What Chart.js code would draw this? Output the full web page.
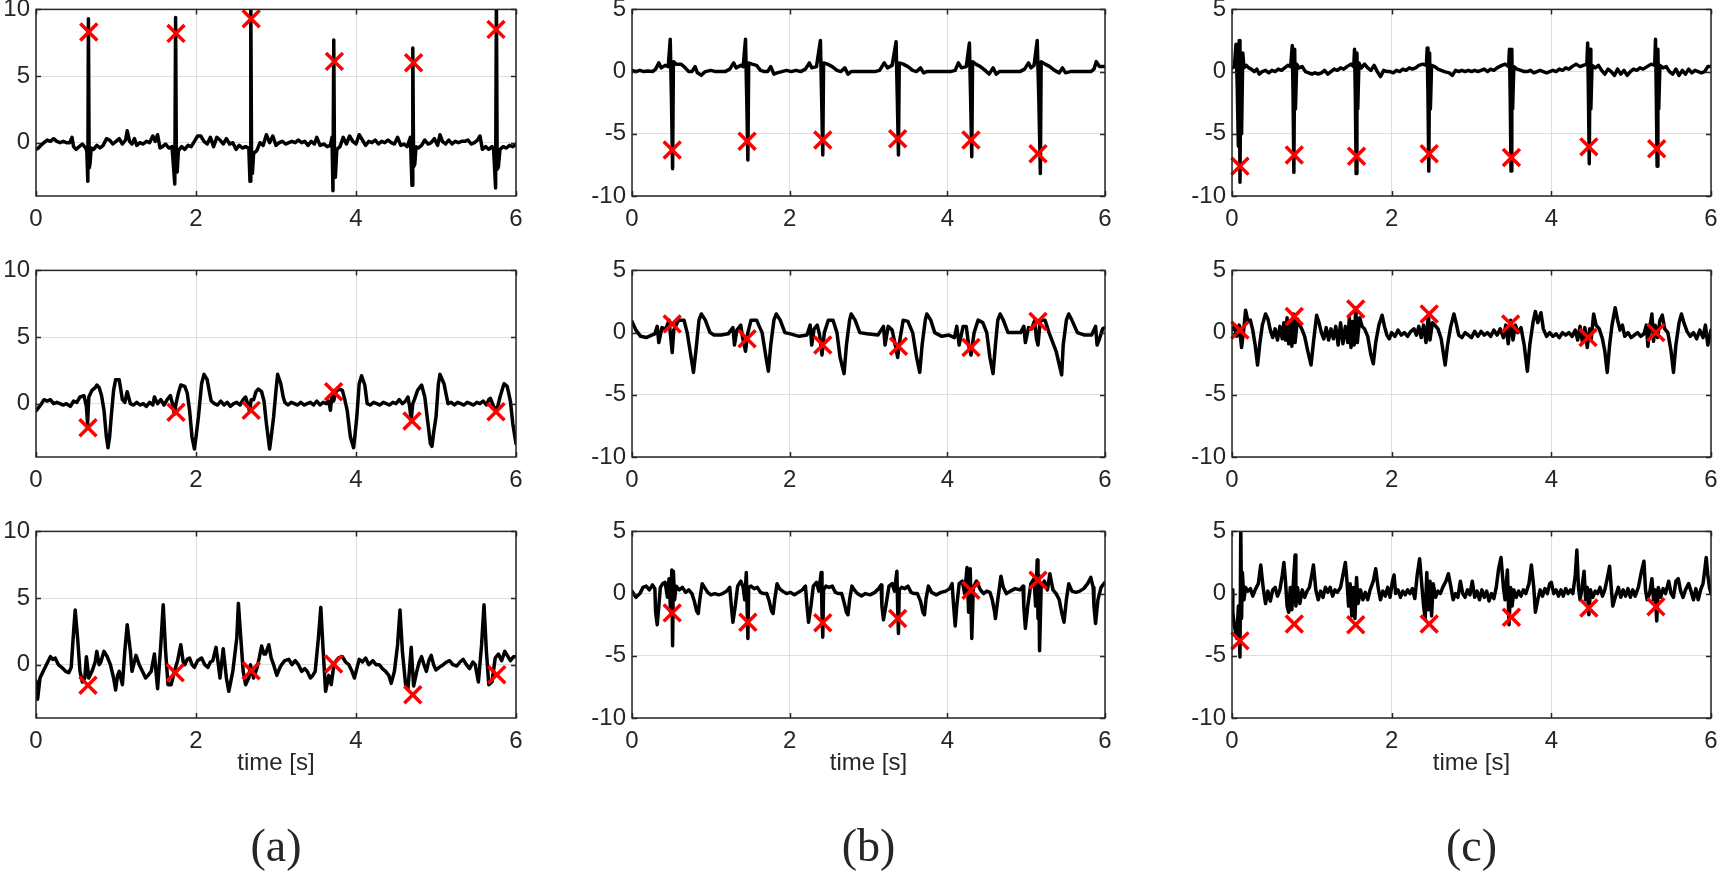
<!DOCTYPE html>
<html>
<head>
<meta charset="utf-8">
<script src="https://cdn.jsdelivr.net/npm/chart.js@4.4.0/dist/chart.umd.min.js"></script>
<style>
  body { margin: 0; width: 1720px; height: 871px; overflow: hidden; background: #fff; position: relative;
         font-family: "Liberation Sans", Arial, sans-serif; color: #262626; }
  .panel { position: absolute; }
  .xlab { position: absolute; font-size: 24px; transform: translate(-50%, -50%); white-space: nowrap; }
  .cap { position: absolute; font-family: "Liberation Serif", serif; font-size: 46px; transform: translate(-50%, -50%); }
</style>
</head>
<body>
<script>
// --- Data (time in s, amplitude) ---

const xTicks = [0, 2, 4, 6];
const yTicksA = [0, 5, 10];
const yTicksBC = [-10, -5, 0, 5];
const yRangeA = [-4, 10];
const yRangeBC = [-10, 5];
const captions = ['(a)', '(b)', '(c)'];
const xTitle = 'time [s]';

// column (a)
const sigA1 = [
  [0.00,-0.5],[0.03,-0.4],[0.06,-0.2],[0.10,0.0],[0.14,0.2],[0.18,0.1],[0.22,0.3],[0.26,0.1],[0.30,0.0],[0.34,0.1],
  [0.38,0.0],[0.42,0.0],[0.45,0.4],[0.47,-0.3],[0.50,-0.5],[0.54,-0.3],[0.58,-0.1],[0.62,-0.4],[0.635,-0.6],[0.648,-2.9],
  [0.655,9.3],[0.665,-1.9],[0.675,-1.6],[0.69,-0.4],[0.72,-0.5],[0.76,-0.2],[0.80,-0.4],[0.84,-0.2],[0.88,0.3],[0.92,0.2],
  [0.96,-0.1],[1.00,0.1],[1.04,0.3],[1.08,-0.1],[1.12,0.2],[1.14,0.9],[1.17,0.1],[1.20,-0.1],[1.23,0.3],[1.26,-0.2],
  [1.30,0.0],[1.34,-0.1],[1.38,0.1],[1.42,0.0],[1.46,0.5],[1.49,0.1],[1.52,0.6],[1.55,-0.4],[1.58,-0.3],[1.62,-0.1],
  [1.66,-0.4],[1.70,-0.3],[1.735,-3.1],[1.745,9.4],[1.755,-2.0],[1.765,-2.2],[1.78,-0.6],[1.82,-0.3],[1.86,-0.5],[1.90,-0.2],
  [1.94,-0.3],[1.98,0.1],[2.02,0.5],[2.06,0.5],[2.10,0.1],[2.14,-0.1],[2.18,0.4],[2.22,-0.3],[2.26,0.4],[2.30,0.2],
  [2.34,-0.1],[2.38,0.3],[2.42,-0.1],[2.46,0.0],[2.50,-0.5],[2.54,-0.2],[2.58,-0.4],[2.62,-0.3],[2.66,-0.4],[2.675,-2.9],
  [2.685,10.5],[2.695,-2.0],[2.705,-2.3],[2.72,-0.8],[2.76,-0.6],[2.80,0.0],[2.84,-0.2],[2.88,0.6],[2.92,0.0],[2.96,0.5],
  [3.00,-0.2],[3.04,0.0],[3.08,0.1],[3.12,-0.1],[3.16,0.0],[3.20,0.1],[3.24,0.0],[3.28,0.2],[3.32,0.0],[3.36,0.1],
  [3.40,-0.2],[3.44,0.1],[3.48,-0.1],[3.51,0.4],[3.55,-0.2],[3.60,-0.1],[3.64,-0.3],[3.68,-0.2],[3.70,0.4],[3.712,-3.6],
  [3.722,7.7],[3.732,-2.2],[3.742,-2.6],[3.76,-0.5],[3.80,-0.3],[3.84,0.4],[3.88,-0.1],[3.92,0.5],[3.96,0.1],[4.00,-0.1],
  [4.04,0.6],[4.08,0.2],[4.12,-0.2],[4.16,0.1],[4.20,0.0],[4.24,0.2],[4.28,-0.1],[4.32,0.1],[4.36,0.0],[4.40,0.2],
  [4.44,0.0],[4.48,-0.1],[4.52,0.4],[4.56,-0.2],[4.60,-0.1],[4.64,-0.3],[4.68,0.4],[4.70,-3.2],[4.71,7.1],[4.72,-1.8],
  [4.735,-1.6],[4.75,-0.3],[4.78,-0.4],[4.82,-0.2],[4.86,0.2],[4.90,-0.1],[4.94,0.0],[4.98,0.3],[5.02,-0.2],[5.05,0.6],
  [5.08,0.1],[5.12,-0.1],[5.16,0.2],[5.20,-0.1],[5.24,0.1],[5.28,0.0],[5.32,0.1],[5.36,0.1],[5.40,0.2],[5.44,-0.1],
  [5.48,0.0],[5.52,0.2],[5.55,0.5],[5.58,-0.5],[5.62,-0.3],[5.66,-0.5],[5.70,-0.3],[5.72,-0.5],[5.745,-3.4],[5.755,11],
  [5.765,-2.0],[5.78,-1.8],[5.80,-0.5],[5.84,-0.3],[5.88,-0.4],[5.92,-0.2],[5.96,-0.3],[6.00,-0.1]
];
const pkA1 = [[0.66,8.3],[1.75,8.2],[2.69,9.3],[3.73,6.1],[4.72,6.0],[5.75,8.5]];

const sigA2 = [
  [0.00,-0.55],[0.07,0.0],[0.10,0.3],[0.14,0.2],[0.18,0.3],[0.22,0.0],[0.26,0.1],[0.30,0.0],[0.34,-0.1],[0.38,0.0],
  [0.43,-0.2],[0.47,0.2],[0.51,0.1],[0.55,0.5],[0.60,0.6],[0.63,-0.2],[0.645,-1.5],[0.66,0.5],[0.70,1.0],[0.74,1.2],
  [0.76,1.4],[0.79,1.2],[0.82,0.6],[0.85,-0.5],[0.88,-2.5],[0.90,-3.3],[0.92,-2.5],[0.94,-1.0],[0.97,1.0],[0.995,1.8],
  [1.04,1.8],[1.08,0.3],[1.11,0.1],[1.14,0.9],[1.18,0.0],[1.22,-0.1],[1.26,0.1],[1.30,-0.1],[1.34,0.0],[1.38,-0.2],
  [1.42,0.1],[1.46,-0.1],[1.48,0.5],[1.52,0.0],[1.56,0.3],[1.60,-0.1],[1.64,0.3],[1.68,0.6],[1.71,-0.1],[1.73,-0.8],
  [1.75,0.0],[1.78,0.8],[1.81,1.4],[1.86,1.3],[1.89,0.8],[1.92,-0.5],[1.95,-2.5],[1.98,-3.4],[2.00,-2.5],[2.03,-1.0],
  [2.07,1.5],[2.10,2.2],[2.14,1.8],[2.17,0.8],[2.19,0.2],[2.23,0.0],[2.27,-0.1],[2.31,0.2],[2.35,-0.1],[2.39,0.1],
  [2.43,-0.2],[2.47,0.0],[2.51,0.1],[2.55,-0.1],[2.59,0.3],[2.62,0.5],[2.65,-0.1],[2.67,-0.6],[2.69,0.3],[2.72,0.3],
  [2.75,0.9],[2.78,1.1],[2.82,0.9],[2.85,0.2],[2.88,-1.5],[2.92,-3.4],[2.94,-2.5],[2.97,-1.0],[3.00,1.0],[3.02,2.2],
  [3.06,1.5],[3.09,0.5],[3.11,0.1],[3.15,-0.1],[3.19,0.1],[3.23,0.0],[3.27,-0.1],[3.31,0.1],[3.35,-0.1],[3.39,0.0],
  [3.43,0.1],[3.47,-0.1],[3.51,0.2],[3.55,-0.1],[3.59,0.1],[3.63,0.0],[3.66,0.2],[3.68,-0.5],[3.70,0.6],[3.72,0.2],
  [3.75,0.9],[3.79,1.1],[3.83,1.0],[3.86,0.3],[3.89,-0.5],[3.93,-2.5],[3.97,-3.3],[3.99,-2.2],[4.01,-1.0],[4.04,1.5],
  [4.07,2.1],[4.11,1.4],[4.14,0.0],[4.18,-0.1],[4.22,0.1],[4.26,0.0],[4.30,-0.1],[4.34,0.1],[4.38,0.0],[4.42,-0.1],
  [4.46,0.1],[4.50,0.0],[4.54,0.3],[4.58,0.0],[4.62,0.2],[4.65,0.5],[4.67,-0.2],[4.69,-1.2],[4.71,0.0],[4.73,0.3],
  [4.77,1.0],[4.82,1.4],[4.86,0.5],[4.90,-1.5],[4.93,-3.0],[4.95,-3.2],[4.97,-2.2],[5.00,-1.0],[5.03,1.5],[5.05,2.2],
  [5.10,1.5],[5.13,0.6],[5.15,0.0],[5.19,0.1],[5.23,-0.1],[5.27,0.1],[5.31,0.0],[5.35,-0.1],[5.39,0.1],[5.43,0.0],
  [5.47,-0.1],[5.51,0.1],[5.55,0.0],[5.59,0.2],[5.63,-0.1],[5.66,0.3],[5.68,0.4],[5.72,-0.2],[5.76,-0.5],[5.78,0.0],
  [5.80,0.5],[5.85,1.5],[5.89,1.3],[5.93,0.2],[5.96,-1.5],[6.00,-3.0]
];
const pkA2 = [[0.65,-1.8],[1.75,-0.65],[2.69,-0.5],[3.72,0.9],[4.70,-1.3],[5.75,-0.6]];

const sigA3 = [
  [0.00,-1.2],[0.02,-2.6],[0.05,-1.0],[0.09,-0.5],[0.13,0.0],[0.18,0.6],[0.21,0.4],[0.24,0.5],[0.28,0.0],[0.32,-0.2],
  [0.37,-0.5],[0.41,-0.6],[0.44,-0.2],[0.47,2.5],[0.49,4.1],[0.52,2.0],[0.55,-0.5],[0.58,-1.3],[0.61,-1.0],[0.63,0.6],
  [0.66,-1.0],[0.70,-0.5],[0.74,0.2],[0.76,1.0],[0.79,0.0],[0.81,0.2],[0.85,1.0],[0.89,0.6],[0.93,0.0],[0.97,-1.0],
  [0.995,-1.9],[1.02,-0.8],[1.04,-0.5],[1.08,-1.5],[1.11,1.0],[1.14,3.0],[1.18,1.0],[1.20,-0.5],[1.25,0.7],[1.29,0.0],
  [1.33,-0.5],[1.37,-1.0],[1.40,-0.8],[1.44,-0.5],[1.48,0.8],[1.52,-1.8],[1.56,1.5],[1.59,4.5],[1.62,1.0],[1.65,-1.5],
  [1.69,-1.5],[1.73,-0.5],[1.77,0.3],[1.81,1.5],[1.84,0.2],[1.86,0.0],[1.89,0.4],[1.92,0.5],[1.95,0.0],[1.98,-0.2],
  [2.02,0.3],[2.07,0.5],[2.11,0.0],[2.15,-0.2],[2.18,0.2],[2.21,0.3],[2.25,1.3],[2.28,0.0],[2.30,-1.0],[2.34,1.2],
  [2.38,-1.0],[2.41,-2.0],[2.46,-0.5],[2.51,2.0],[2.53,4.6],[2.56,2.0],[2.59,-0.5],[2.62,-1.5],[2.66,-1.0],[2.68,0.0],
  [2.72,-1.0],[2.76,-0.3],[2.79,0.5],[2.82,1.4],[2.85,0.8],[2.87,0.8],[2.91,1.5],[2.94,0.5],[2.97,0.0],[3.01,-0.8],
  [3.05,-0.2],[3.07,0.0],[3.11,0.3],[3.16,0.4],[3.20,0.0],[3.24,0.3],[3.28,0.0],[3.32,-0.5],[3.36,-0.3],[3.39,-0.5],
  [3.43,-1.0],[3.46,-0.8],[3.49,-0.5],[3.53,2.0],[3.56,4.3],[3.59,1.0],[3.62,-2.0],[3.66,-0.8],[3.69,-1.5],[3.72,-0.2],
  [3.74,0.2],[3.78,0.5],[3.83,0.6],[3.87,0.2],[3.91,0.0],[3.95,-0.5],[3.98,-1.0],[4.01,-0.3],[4.04,0.4],[4.08,0.2],
  [4.12,0.5],[4.16,0.0],[4.21,0.3],[4.25,0.0],[4.29,0.0],[4.33,-0.3],[4.37,-0.5],[4.41,-0.8],[4.44,-1.4],[4.48,-0.5],
  [4.52,1.5],[4.55,4.1],[4.58,1.0],[4.62,-1.5],[4.65,-1.8],[4.69,1.3],[4.72,-1.6],[4.76,-0.5],[4.79,0.2],[4.82,0.6],
  [4.85,0.0],[4.88,-0.5],[4.91,0.3],[4.94,0.7],[4.97,0.0],[5.00,-0.4],[5.04,-0.2],[5.09,0.0],[5.13,0.2],[5.17,0.3],
  [5.21,0.0],[5.26,-0.1],[5.30,0.2],[5.34,0.4],[5.38,0.0],[5.42,-0.3],[5.46,0.2],[5.49,0.0],[5.53,-1.3],[5.57,1.5],
  [5.60,4.5],[5.63,1.0],[5.66,-1.5],[5.70,-1.3],[5.74,0.5],[5.78,0.8],[5.82,0.3],[5.86,1.0],[5.90,0.6],[5.93,0.3],
  [5.97,0.6],[6.00,0.6]
];
const pkA3 = [[0.65,-1.55],[1.74,-0.6],[2.69,-0.45],[3.72,0.05],[4.71,-2.25],[5.76,-0.75]];

// column (b)
const sigB1 = [
  [0.00,0.1],[0.05,0.0],[0.10,0.1],[0.15,0.0],[0.20,0.05],[0.26,0.0],[0.30,0.2],[0.34,0.7],[0.37,0.3],[0.42,0.5],
  [0.46,0.4],[0.485,2.6],[0.50,-2.0],[0.515,-7.8],[0.525,0.8],[0.56,0.6],[0.62,0.6],[0.66,0.4],[0.72,0.0],[0.76,0.0],
  [0.80,0.4],[0.83,-0.1],[0.88,-0.3],[0.93,0.0],[1.00,0.1],[1.06,0.0],[1.12,0.0],[1.18,0.0],[1.24,0.2],[1.29,0.7],
  [1.32,0.3],[1.38,0.5],[1.41,0.4],[1.44,2.6],[1.455,-2.0],[1.47,-7.1],[1.48,0.7],[1.52,0.6],[1.58,0.5],[1.63,0.1],
  [1.68,0.0],[1.72,0.0],[1.76,0.4],[1.80,-0.2],[1.84,-0.1],[1.90,0.0],[1.96,0.1],[2.02,0.0],[2.08,0.1],[2.14,0.0],
  [2.20,0.2],[2.25,0.7],[2.28,0.3],[2.34,0.4],[2.39,2.5],[2.405,-2.0],[2.42,-6.7],[2.43,0.7],[2.48,0.6],[2.54,0.4],
  [2.60,0.1],[2.65,0.0],[2.70,0.3],[2.74,-0.2],[2.78,0.0],[2.84,0.0],[2.90,0.0],[2.96,0.0],[3.02,0.0],[3.08,0.0],
  [3.14,0.1],[3.20,0.7],[3.24,0.3],[3.30,0.5],[3.35,2.4],[3.365,-2.0],[3.38,-6.7],[3.39,0.7],[3.44,0.6],[3.50,0.4],
  [3.56,0.1],[3.61,0.0],[3.66,0.3],[3.70,-0.1],[3.74,0.0],[3.80,0.0],[3.86,0.0],[3.92,0.0],[3.98,0.0],[4.04,0.0],
  [4.10,0.1],[4.14,0.7],[4.18,0.3],[4.24,0.4],[4.28,2.3],[4.295,-2.0],[4.31,-6.85],[4.32,0.8],[4.36,0.6],[4.42,0.4],
  [4.48,0.1],[4.53,-0.2],[4.58,0.3],[4.62,-0.2],[4.66,0.0],[4.72,0.0],[4.80,0.0],[4.86,0.0],[4.92,0.0],[4.98,0.2],
  [5.03,0.7],[5.06,0.3],[5.10,0.5],[5.14,2.5],[5.16,-2.0],[5.18,-8.2],[5.19,0.8],[5.24,0.6],[5.30,0.4],[5.36,0.1],
  [5.42,-0.1],[5.46,0.3],[5.50,-0.1],[5.56,0.0],[5.62,0.0],[5.70,0.0],[5.76,0.0],[5.82,0.0],[5.86,0.2],[5.89,0.8],
  [5.93,0.4],[6.00,0.4]
];
const pkB1 = [[0.51,-6.3],[1.46,-5.6],[2.42,-5.5],[3.37,-5.4],[4.30,-5.5],[5.15,-6.6]];

const sigB2 = [
  [0.00,0.9],[0.05,0.2],[0.11,-0.3],[0.18,-0.4],[0.25,-0.2],[0.29,-0.1],[0.32,0.5],[0.34,-0.8],[0.38,0.4],[0.43,0.3],
  [0.47,1.0],[0.51,-1.6],[0.53,0.2],[0.59,1.0],[0.66,1.0],[0.70,0.0],[0.75,-2.0],[0.78,-3.2],[0.81,-1.5],[0.85,1.0],
  [0.88,1.5],[0.93,1.0],[0.99,0.0],[1.04,-0.2],[1.13,-0.2],[1.22,-0.1],[1.28,0.4],[1.30,-1.0],[1.33,0.2],[1.38,0.6],
  [1.40,-0.3],[1.44,-1.5],[1.47,0.0],[1.51,1.0],[1.58,1.0],[1.65,0.0],[1.70,-2.0],[1.73,-3.1],[1.76,-1.0],[1.80,1.0],
  [1.83,1.5],[1.88,1.0],[1.94,0.0],[2.01,-0.1],[2.12,-0.3],[2.22,-0.2],[2.26,0.6],[2.28,-1.0],[2.31,0.3],[2.35,0.6],
  [2.38,-0.2],[2.41,-1.8],[2.44,0.0],[2.49,1.0],[2.55,1.0],[2.60,0.0],[2.64,-2.0],[2.69,-3.3],[2.72,-1.0],[2.76,1.0],
  [2.78,1.5],[2.83,1.0],[2.89,0.0],[2.98,-0.1],[3.12,-0.2],[3.19,0.5],[3.21,-1.0],[3.25,0.5],[3.30,0.2],[3.34,-1.0],
  [3.37,-2.0],[3.40,-0.5],[3.44,1.0],[3.50,0.9],[3.56,0.0],[3.61,-2.0],[3.65,-3.2],[3.68,-1.0],[3.72,1.0],[3.74,1.5],
  [3.79,1.0],[3.84,0.0],[3.93,-0.3],[4.02,-0.2],[4.09,-0.4],[4.12,0.5],[4.15,-1.0],[4.20,0.5],[4.24,0.5],[4.27,-1.0],
  [4.30,-1.8],[4.34,0.0],[4.39,1.0],[4.45,0.8],[4.50,0.0],[4.54,-2.0],[4.58,-3.3],[4.61,-1.0],[4.64,1.0],[4.67,1.5],
  [4.71,1.0],[4.77,0.0],[4.84,0.0],[4.93,0.0],[4.97,0.5],[4.99,-0.8],[5.03,0.4],[5.07,0.3],[5.11,1.0],[5.13,-0.5],
  [5.15,-1.0],[5.18,1.0],[5.24,1.0],[5.29,0.0],[5.38,-1.5],[5.45,-3.4],[5.47,-1.0],[5.51,1.0],[5.54,1.5],[5.58,1.0],
  [5.65,0.0],[5.74,-0.2],[5.83,-0.2],[5.88,0.5],[5.90,-1.0],[5.93,-0.5],[5.97,0.3],[6.00,0.4]
];
const pkB2 = [[0.51,0.7],[1.46,-0.5],[2.42,-1.0],[3.38,-1.1],[4.30,-1.2],[5.15,0.9]];

const sigB3 = [
  [0.00,0.2],[0.05,-0.3],[0.10,0.0],[0.14,0.5],[0.18,0.6],[0.22,0.3],[0.26,0.7],[0.29,0.4],[0.30,-1.5],[0.32,-2.5],
  [0.34,-1.0],[0.36,0.5],[0.39,0.8],[0.42,0.9],[0.45,-0.3],[0.47,1.2],[0.49,-1.5],[0.505,1.9],[0.515,-4.2],[0.525,1.8],
  [0.54,-0.5],[0.56,0.6],[0.60,0.3],[0.64,0.5],[0.68,0.1],[0.72,0.3],[0.76,0.0],[0.79,-0.6],[0.82,-1.4],[0.84,-1.6],
  [0.86,-0.5],[0.89,0.8],[0.92,0.5],[0.96,0.1],[1.00,-0.1],[1.05,0.0],[1.10,-0.1],[1.15,0.0],[1.20,0.2],[1.24,0.5],
  [1.26,-1.0],[1.28,-2.3],[1.31,-1.0],[1.34,0.6],[1.38,1.0],[1.41,0.5],[1.43,-0.5],[1.45,1.7],[1.46,-1.0],[1.47,-3.6],
  [1.48,0.5],[1.51,0.6],[1.55,0.4],[1.59,0.5],[1.63,0.1],[1.67,0.0],[1.71,0.0],[1.74,-0.6],[1.77,-1.4],[1.79,-1.6],
  [1.81,-0.5],[1.84,0.8],[1.87,0.4],[1.91,0.2],[1.96,0.0],[2.01,0.1],[2.06,-0.1],[2.11,0.1],[2.16,0.3],[2.20,0.6],
  [2.22,-1.0],[2.24,-2.3],[2.27,-1.0],[2.30,0.6],[2.34,0.9],[2.37,0.2],[2.40,1.7],[2.41,-1.5],[2.42,-3.5],[2.43,0.3],
  [2.46,0.6],[2.50,0.5],[2.54,0.6],[2.58,0.1],[2.62,0.0],[2.66,0.0],[2.69,-0.7],[2.72,-1.5],[2.74,-1.7],[2.76,-0.5],
  [2.79,0.6],[2.82,0.3],[2.86,0.0],[2.91,-0.2],[2.96,0.0],[3.02,-0.1],[3.08,0.1],[3.13,0.4],[3.16,0.7],[3.17,-1.0],
  [3.19,-2.1],[3.22,-1.0],[3.26,0.6],[3.30,0.8],[3.33,0.2],[3.36,1.8],[3.37,-1.2],[3.38,-3.2],[3.39,0.3],[3.42,0.5],
  [3.46,0.4],[3.50,0.6],[3.54,0.1],[3.58,0.0],[3.62,0.0],[3.66,-0.6],[3.69,-1.5],[3.71,-1.7],[3.73,-0.4],[3.76,0.6],
  [3.80,0.1],[3.86,-0.1],[3.92,0.1],[3.98,0.2],[4.03,0.4],[4.06,0.8],[4.08,-1.0],[4.10,-2.6],[4.12,-1.0],[4.15,0.8],
  [4.19,1.0],[4.22,0.0],[4.25,2.1],[4.27,-1.5],[4.29,2.0],[4.31,-3.6],[4.33,0.5],[4.37,1.0],[4.42,0.3],[4.46,0.0],
  [4.50,0.2],[4.54,0.1],[4.57,-0.5],[4.60,-1.5],[4.61,-2.0],[4.64,-0.5],[4.68,1.4],[4.71,0.5],[4.75,0.0],[4.80,0.2],
  [4.86,0.4],[4.92,0.3],[4.96,0.6],[4.97,-1.0],[4.99,-2.8],[5.02,-1.0],[5.06,0.8],[5.10,1.2],[5.12,-1.0],[5.14,2.7],
  [5.15,-2.0],[5.16,1.5],[5.17,-4.6],[5.19,0.5],[5.23,1.0],[5.27,0.3],[5.30,1.6],[5.34,0.3],[5.38,0.0],[5.42,-0.5],
  [5.45,-1.5],[5.48,-2.3],[5.51,-0.5],[5.54,0.8],[5.58,0.2],[5.63,0.1],[5.68,0.2],[5.73,0.4],[5.78,0.8],[5.82,1.3],
  [5.85,0.5],[5.86,-1.0],[5.88,-2.4],[5.91,-0.5],[5.95,0.5],[6.00,0.9]
];
const pkB3 = [[0.51,-1.55],[1.47,-2.3],[2.42,-2.35],[3.37,-2.0],[4.30,0.27],[5.15,1.07]];

// column (c)
const sigC1 = [
  [0.00,0.3],[0.03,0.4],[0.05,2.2],[0.065,-1.0],[0.08,-6.0],[0.09,2.5],[0.10,-8.9],[0.11,1.0],[0.12,-5.0],[0.135,1.5],
  [0.15,0.3],[0.18,0.5],[0.21,0.3],[0.24,0.2],[0.28,0.0],[0.31,0.2],[0.34,-0.2],[0.38,0.0],[0.42,0.1],[0.46,-0.1],
  [0.50,0.1],[0.54,0.0],[0.58,0.2],[0.62,0.1],[0.66,0.3],[0.70,0.5],[0.735,0.4],[0.755,2.1],[0.765,-2.0],[0.775,-8.1],
  [0.785,1.8],[0.795,-3.0],[0.81,0.6],[0.84,0.3],[0.88,0.4],[0.92,0.0],[0.96,-0.1],[1.00,-0.2],[1.04,-0.1],[1.08,-0.2],
  [1.12,-0.1],[1.16,0.1],[1.20,-0.2],[1.24,0.0],[1.28,0.2],[1.32,0.1],[1.36,0.3],[1.40,0.2],[1.44,0.4],[1.49,0.6],
  [1.525,0.4],[1.535,1.8],[1.545,-2.0],[1.555,-8.2],[1.565,1.5],[1.575,-3.0],[1.59,0.7],[1.62,0.3],[1.66,0.6],[1.70,0.3],
  [1.74,0.1],[1.78,0.5],[1.82,0.0],[1.86,-0.4],[1.90,0.1],[1.94,0.0],[1.98,0.0],[2.02,-0.1],[2.06,0.1],[2.10,0.0],
  [2.14,0.2],[2.18,0.1],[2.22,0.3],[2.26,0.2],[2.30,0.3],[2.34,0.5],[2.39,0.6],[2.435,0.5],[2.445,1.9],[2.455,-2.0],
  [2.465,-8.0],[2.475,1.5],[2.485,-3.0],[2.50,0.5],[2.54,0.4],[2.58,0.2],[2.62,0.1],[2.66,0.0],[2.72,-0.1],[2.76,-0.3],
  [2.80,0.1],[2.84,0.0],[2.88,0.1],[2.92,0.0],[2.96,0.1],[3.00,0.0],[3.04,0.1],[3.08,0.0],[3.12,0.1],[3.16,0.2],
  [3.20,0.0],[3.24,0.2],[3.28,0.1],[3.32,0.3],[3.38,0.5],[3.42,0.6],[3.465,0.4],[3.475,1.8],[3.485,-2.0],[3.495,-8.0],
  [3.505,1.8],[3.515,-3.0],[3.53,0.4],[3.57,0.2],[3.62,0.1],[3.66,0.0],[3.70,0.0],[3.74,0.1],[3.78,-0.1],[3.82,0.0],
  [3.86,0.1],[3.90,0.0],[3.94,-0.1],[3.98,0.0],[4.02,0.1],[4.06,0.0],[4.10,0.2],[4.14,0.1],[4.18,0.3],[4.22,0.2],
  [4.26,0.4],[4.31,0.6],[4.36,0.4],[4.40,0.5],[4.445,0.6],[4.455,2.3],[4.465,-2.0],[4.475,-7.4],[4.485,1.8],[4.495,-3.0],
  [4.51,0.5],[4.55,0.3],[4.59,0.5],[4.63,0.1],[4.67,-0.2],[4.71,0.2],[4.75,0.0],[4.79,-0.3],[4.83,0.2],[4.87,-0.2],
  [4.91,0.1],[4.95,-0.3],[4.99,0.0],[5.03,0.2],[5.07,0.1],[5.11,0.3],[5.15,0.2],[5.20,0.4],[5.25,0.6],[5.295,0.5],
  [5.305,2.6],[5.315,-2.0],[5.325,-7.6],[5.335,1.8],[5.345,-3.0],[5.36,0.5],[5.40,0.3],[5.44,0.4],[5.48,0.0],[5.52,-0.2],
  [5.56,0.2],[5.60,-0.3],[5.64,0.1],[5.68,-0.2],[5.72,0.2],[5.76,-0.1],[5.80,0.1],[5.84,0.0],[5.88,-0.1],[5.92,0.0],
  [5.96,0.4],[6.00,0.4]
];
const pkC1 = [[0.10,-7.6],[0.78,-6.7],[1.56,-6.8],[2.47,-6.6],[3.50,-6.9],[4.47,-6.05],[5.32,-6.2]];

const sigC2 = [
  [0.00,0.2],[0.03,0.5],[0.06,-0.3],[0.09,0.6],[0.12,-1.2],[0.15,0.4],[0.17,1.8],[0.20,0.9],[0.23,1.0],[0.26,0.2],
  [0.29,-1.0],[0.32,-2.6],[0.35,-0.8],[0.38,0.6],[0.42,1.5],[0.45,1.1],[0.48,0.2],[0.51,-0.4],[0.54,0.3],[0.57,-0.6],
  [0.60,0.5],[0.63,-0.5],[0.65,0.8],[0.67,-0.6],[0.69,1.2],[0.71,-0.9],[0.73,0.7],[0.75,-1.1],[0.77,1.5],[0.79,-0.8],
  [0.82,1.1],[0.85,0.6],[0.88,0.2],[0.91,-0.3],[0.95,-1.5],[0.99,-2.6],[1.02,-0.8],[1.06,1.4],[1.09,0.8],[1.12,0.0],
  [1.15,-0.5],[1.18,0.4],[1.21,-0.6],[1.24,0.3],[1.27,-0.5],[1.30,0.5],[1.33,-1.0],[1.36,0.8],[1.39,-0.9],[1.42,0.5],
  [1.45,-0.8],[1.47,1.2],[1.49,-1.2],[1.51,0.9],[1.53,-1.0],[1.55,2.0],[1.57,-0.8],[1.60,1.2],[1.63,0.5],[1.66,0.3],
  [1.70,-0.3],[1.74,-1.8],[1.77,-2.5],[1.80,-0.8],[1.84,0.6],[1.88,1.4],[1.91,0.5],[1.94,-0.2],[1.97,-0.5],[2.00,0.0],
  [2.04,-0.3],[2.08,0.2],[2.12,-0.2],[2.16,0.0],[2.20,-0.3],[2.24,0.1],[2.28,0.3],[2.31,-0.2],[2.34,0.5],[2.37,-0.4],
  [2.40,0.6],[2.43,-0.8],[2.46,1.4],[2.48,-0.6],[2.51,0.8],[2.54,0.6],[2.58,0.3],[2.62,-0.5],[2.67,-2.6],[2.70,-1.0],
  [2.74,0.5],[2.78,1.5],[2.81,0.7],[2.84,-0.2],[2.88,-0.4],[2.92,0.0],[2.96,-0.2],[3.00,-0.4],[3.04,0.1],[3.08,-0.3],
  [3.12,0.1],[3.16,-0.2],[3.20,0.0],[3.24,-0.3],[3.28,0.2],[3.32,-0.2],[3.36,0.3],[3.40,-0.4],[3.43,0.6],[3.46,-0.9],
  [3.49,1.0],[3.52,-0.6],[3.55,0.6],[3.58,0.0],[3.62,0.4],[3.66,-1.0],[3.70,-3.1],[3.73,-1.0],[3.77,0.8],[3.80,1.7],
  [3.83,0.8],[3.87,1.6],[3.90,0.3],[3.94,-0.3],[3.98,0.0],[4.02,-0.3],[4.06,-0.1],[4.10,-0.4],[4.14,0.0],[4.18,-0.2],
  [4.22,0.0],[4.26,-0.3],[4.30,0.2],[4.33,-0.6],[4.36,0.5],[4.39,-0.8],[4.42,0.4],[4.45,-1.2],[4.48,0.3],[4.50,-0.5],
  [4.53,1.5],[4.56,0.6],[4.60,0.3],[4.64,-0.5],[4.67,-1.5],[4.70,-3.2],[4.73,-1.0],[4.76,0.6],[4.80,2.0],[4.83,1.0],
  [4.86,0.2],[4.89,0.6],[4.92,-0.3],[4.96,0.0],[5.00,-0.4],[5.04,-0.2],[5.08,0.0],[5.12,-0.3],[5.16,-0.1],[5.19,0.6],
  [5.21,-1.1],[5.23,0.3],[5.26,1.5],[5.28,-0.7],[5.30,0.6],[5.33,-0.4],[5.36,1.0],[5.39,1.4],[5.42,0.3],[5.46,0.0],
  [5.50,-1.5],[5.53,-3.2],[5.56,-1.0],[5.60,0.8],[5.63,1.5],[5.66,0.8],[5.70,0.1],[5.74,-0.3],[5.78,0.0],[5.82,-0.5],
  [5.86,0.2],[5.90,-0.4],[5.93,0.6],[5.96,-1.0],[6.00,0.2]
];
const pkC2 = [[0.10,0.2],[0.78,1.3],[1.55,1.9],[2.47,1.5],[3.49,0.7],[4.46,-0.4],[5.31,0.0]];

const sigC3 = [
  [0.00,0.3],[0.01,-1.5],[0.03,-2.6],[0.06,-3.6],[0.08,-1.0],[0.10,-5.1],[0.11,5.5],[0.12,-2.0],[0.13,1.7],[0.15,-0.5],
  [0.17,0.5],[0.20,0.2],[0.23,0.4],[0.26,-0.2],[0.29,0.3],[0.33,0.8],[0.36,2.3],[0.39,0.5],[0.42,-0.8],[0.45,0.2],
  [0.48,-0.6],[0.51,0.3],[0.54,0.5],[0.57,-0.2],[0.60,0.3],[0.63,1.5],[0.65,2.5],[0.67,1.0],[0.69,-1.0],[0.71,-1.5],
  [0.73,0.5],[0.75,-1.3],[0.77,1.0],[0.79,3.1],[0.80,-1.0],[0.82,0.5],[0.85,-0.8],[0.88,0.3],[0.91,-0.3],[0.94,0.2],
  [0.97,0.5],[1.00,1.5],[1.02,2.3],[1.05,0.3],[1.08,-0.5],[1.11,0.2],[1.14,-0.3],[1.17,0.5],[1.20,0.1],[1.23,0.5],
  [1.26,-0.2],[1.29,0.3],[1.32,0.1],[1.36,0.5],[1.39,1.5],[1.42,2.5],[1.44,1.0],[1.46,-1.0],[1.48,0.8],[1.50,-1.8],
  [1.52,0.5],[1.54,-2.0],[1.56,1.3],[1.58,-0.8],[1.61,0.3],[1.64,-0.5],[1.67,0.1],[1.70,-0.5],[1.73,0.3],[1.77,1.0],
  [1.80,2.0],[1.83,0.5],[1.86,-0.5],[1.89,0.2],[1.92,-0.2],[1.95,0.5],[1.98,-0.3],[2.01,1.0],[2.03,1.5],[2.05,0.0],
  [2.08,0.3],[2.11,-0.3],[2.14,0.2],[2.17,-0.1],[2.20,0.3],[2.23,0.0],[2.26,0.4],[2.29,-0.4],[2.32,1.5],[2.35,2.8],
  [2.38,0.5],[2.40,-1.0],[2.42,-2.0],[2.44,1.7],[2.46,-1.3],[2.48,1.0],[2.50,-1.8],[2.52,0.8],[2.55,-0.3],[2.58,0.2],
  [2.61,0.0],[2.64,0.5],[2.68,1.0],[2.71,1.6],[2.74,0.6],[2.77,-0.5],[2.80,0.0],[2.83,-0.3],[2.86,1.0],[2.89,0.0],
  [2.92,-0.3],[2.95,0.3],[2.98,-0.1],[3.01,1.0],[3.04,-0.3],[3.07,0.2],[3.10,-0.5],[3.13,0.3],[3.16,-0.3],[3.19,0.2],
  [3.22,-0.6],[3.25,0.0],[3.28,-0.4],[3.31,0.5],[3.34,2.0],[3.37,2.9],[3.40,0.5],[3.42,-0.5],[3.45,1.9],[3.47,-2.5],
  [3.49,0.5],[3.51,-1.0],[3.53,0.3],[3.56,-0.3],[3.59,0.2],[3.62,-0.2],[3.65,0.3],[3.68,0.0],[3.72,0.8],[3.75,2.3],
  [3.78,0.5],[3.80,-1.5],[3.83,-0.5],[3.86,0.3],[3.89,-0.2],[3.92,0.4],[3.95,0.0],[3.98,0.8],[4.00,0.9],[4.03,0.0],
  [4.06,0.3],[4.09,-0.2],[4.12,0.3],[4.15,-0.2],[4.18,0.4],[4.21,0.0],[4.24,0.3],[4.27,0.0],[4.30,1.5],[4.32,3.5],
  [4.34,0.5],[4.36,-0.5],[4.38,0.3],[4.41,1.8],[4.43,-0.5],[4.45,0.5],[4.47,-1.7],[4.49,0.3],[4.52,-0.3],[4.55,0.2],
  [4.58,0.0],[4.61,0.5],[4.64,-0.2],[4.67,0.3],[4.70,1.2],[4.73,2.2],[4.75,0.5],[4.77,-1.0],[4.80,-0.3],[4.84,0.5],
  [4.87,-0.3],[4.90,0.3],[4.93,-0.2],[4.96,0.4],[4.99,-0.3],[5.02,0.3],[5.05,-0.2],[5.09,0.5],[5.13,1.8],[5.16,2.6],
  [5.18,0.3],[5.20,-0.5],[5.23,0.0],[5.26,1.2],[5.28,-0.5],[5.30,0.3],[5.32,-2.2],[5.34,0.5],[5.37,-0.3],[5.40,0.4],
  [5.43,0.0],[5.47,1.0],[5.50,0.0],[5.53,-0.3],[5.56,1.0],[5.59,1.2],[5.62,0.2],[5.65,-0.3],[5.68,0.3],[5.72,0.8],
  [5.75,0.2],[5.78,-0.5],[5.81,0.4],[5.84,-0.5],[5.87,0.3],[5.90,0.8],[5.92,1.8],[5.94,2.9],[5.96,1.5],[5.98,0.5],
  [6.00,0.0]
];
const pkC3 = [[0.10,-3.8],[0.78,-2.45],[1.55,-2.5],[2.47,-2.45],[3.50,-1.9],[4.47,-1.15],[5.31,-1.05]];

// --- Layout ---

const colLeft = [36, 632, 1232];
const colWidth = [480, 473, 479];
const rowTop = [7, 268, 529];
const plotH = 189;
const PAD_L = 84, PAD_T = 18, PAD_R = 16, PAD_B = 42;
const textColor = '#262626';
const gridColor = '#dedede';
const tickFont = { family: '"Liberation Sans", Arial, sans-serif', size: 24 };

const boxPlugin = {
  id: 'box',
  afterDraw(chart) {
    const { ctx, chartArea: a, scales: { x, y } } = chart;
    ctx.save();
    ctx.strokeStyle = textColor;
    ctx.lineWidth = 1.5;
    ctx.beginPath();
    // inward ticks on all four sides, like a boxed MATLAB axis
    x.ticks.forEach(t => {
      const px = Math.round(x.getPixelForValue(t.value)) + 0.5;
      ctx.moveTo(px, a.bottom); ctx.lineTo(px, a.bottom - 5);
      ctx.moveTo(px, a.top); ctx.lineTo(px, a.top + 5);
    });
    y.ticks.forEach(t => {
      const py = Math.round(y.getPixelForValue(t.value)) + 0.5;
      ctx.moveTo(a.left, py); ctx.lineTo(a.left + 5, py);
      ctx.moveTo(a.right, py); ctx.lineTo(a.right - 5, py);
    });
    ctx.stroke();
    ctx.strokeRect(a.left, a.top, a.right - a.left, a.bottom - a.top);
    ctx.restore();
  }
};

function makePanel(col, row, sig, pk) {
  const isA = col === 0;
  const yRange = isA ? yRangeA : yRangeBC;
  const yTicks = isA ? yTicksA : yTicksBC;
  const w = colWidth[col] + PAD_L + PAD_R, h = plotH + PAD_T + PAD_B;

  const div = document.createElement('div');
  div.className = 'panel';
  div.style.left = (colLeft[col] - PAD_L) + 'px';
  div.style.top = (rowTop[row] - PAD_T) + 'px';
  div.style.width = w + 'px';
  div.style.height = h + 'px';
  const cv = document.createElement('canvas');
  cv.width = w; cv.height = h;
  div.appendChild(cv);
  document.body.appendChild(div);

  new Chart(cv, {
    type: 'line',
    data: {
      datasets: [
        {
          data: pk.map(([x, y]) => ({ x, y })),
          showLine: false,
          pointStyle: 'crossRot',
          pointRadius: 12,
          pointBorderWidth: 3.5,
          pointBorderColor: '#ff0000',
          pointBackgroundColor: '#ff0000',
          clip: false,
        },
        {
          data: sig.map(([x, y]) => ({ x, y })),
          borderColor: '#000',
          borderWidth: 3.5,
          borderJoinStyle: 'round',
          borderCapStyle: 'round',
          pointRadius: 0,
          tension: 0,
          clip: 0,
        }
      ]
    },
    options: {
      responsive: false,
      animation: false,
      events: [],
      layout: { padding: { left: 0, top: PAD_T, right: PAD_R, bottom: 0 } },
      plugins: { legend: { display: false }, tooltip: { enabled: false } },
      scales: {
        x: {
          type: 'linear',
          min: 0, max: 6,
          afterBuildTicks: s => { s.ticks = xTicks.map(v => ({ value: v })); },
          afterFit: s => { s.height = PAD_B; },
          grid: { color: gridColor, lineWidth: 1, drawTicks: false },
          border: { display: false },
          ticks: { color: textColor, font: tickFont, padding: 9, maxRotation: 0, autoSkip: false }
        },
        y: {
          type: 'linear',
          min: yRange[0], max: yRange[1],
          afterBuildTicks: s => { s.ticks = yTicks.map(v => ({ value: v })); },
          afterFit: s => { s.width = PAD_L; },
          grid: { color: gridColor, lineWidth: 1, drawTicks: false },
          border: { display: false },
          ticks: { color: textColor, font: tickFont, padding: 6, autoSkip: false }
        }
      }
    },
    plugins: [boxPlugin]
  });
}

const panels = [
  [0, 0, sigA1, pkA1], [0, 1, sigA2, pkA2], [0, 2, sigA3, pkA3],
  [1, 0, sigB1, pkB1], [1, 1, sigB2, pkB2], [1, 2, sigB3, pkB3],
  [2, 0, sigC1, pkC1], [2, 1, sigC2, pkC2], [2, 2, sigC3, pkC3],
];
panels.forEach(p => makePanel(...p));

// axis titles and sub-figure captions
colLeft.forEach((l, i) => {
  const cx = l + colWidth[i] / 2;
  const t = document.createElement('div');
  t.className = 'xlab';
  t.textContent = xTitle;
  t.style.left = cx + 'px';
  t.style.top = '762px';
  document.body.appendChild(t);

  const c = document.createElement('div');
  c.className = 'cap';
  c.textContent = captions[i];
  c.style.left = cx + 'px';
  c.style.top = '845px';
  document.body.appendChild(c);
});
</script>
</body>
</html>
